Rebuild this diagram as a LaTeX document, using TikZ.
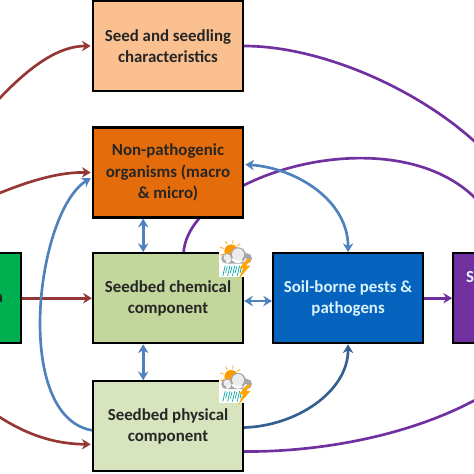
\documentclass[tikz,border=0pt]{standalone}
\usepackage{fontspec}
\setmainfont{Carlito}
\usetikzlibrary{arrows.meta,positioning,calc,backgrounds}
\definecolor{seedcol}{RGB}{250,192,144}
\definecolor{orgcol}{RGB}{228,108,10}
\definecolor{chemcol}{RGB}{195,214,155}
\definecolor{physcol}{RGB}{215,228,189}
\definecolor{soilcol}{RGB}{5,99,190}
\definecolor{cropcol}{RGB}{112,48,160}
\definecolor{mgmtcol}{RGB}{0,176,80}
\definecolor{redarr}{RGB}{149,55,53}
\definecolor{bluearr}{RGB}{79,129,189}
\definecolor{darkarr}{RGB}{54,96,146}
\definecolor{purparr}{RGB}{112,48,160}
\tikzset{
  block/.style={draw=black, line width=1.5pt, fill=#1, minimum width=3.75cm, minimum height=2.25cm, align=center, font=\fontsize{12}{15.2}\selectfont\bfseries, text=black!85},
  effect/.style={-{Stealth[length=2.2mm,width=2.6mm]}, line width=1.9pt, color=redarr},
  link/.style={{Stealth[length=2.2mm,width=2.6mm]}-{Stealth[length=2.2mm,width=2.6mm]}, line width=1.9pt, color=bluearr},
  oneway/.style={-{Stealth[length=2.2mm,width=2.6mm]}, line width=1.9pt, color=bluearr},
  yield/.style={line width=1.9pt, color=purparr},
  weather/.pic={
    \fill[white] (-0.42,0.45) rectangle (0.42,-0.45);
    \fill[orange!80!yellow] (-0.12,0.2) circle (0.17);
    \foreach \a in {40,80,...,240} \draw[orange!80!yellow, line width=0.5pt] (-0.12,0.2) ++(\a:0.2) -- ++(\a:0.09);
    \fill[black!35] (-0.24,0.02) circle (0.13) (0.05,0.1) circle (0.2) (0.27,0.02) circle (0.13) (-0.24,-0.11) rectangle (0.27,0.02);
    \fill[white!85!gray] (-0.22,0.04) circle (0.09) (0.05,0.12) circle (0.15);
    \foreach \x in {-0.27,-0.15,-0.03,0.09} \draw[teal!70!cyan, line width=0.5pt] (\x,-0.16) -- ++(-0.06,-0.26) (\x+0.05,-0.18) -- ++(-0.04,-0.16);
    \fill[orange!70!yellow] (0.27,0) -- (0.08,-0.23) -- (0.18,-0.23) -- (0.06,-0.5) -- (0.36,-0.16) -- (0.25,-0.16) -- (0.38,0) -- cycle;
  },
}
\begin{document}
\begin{tikzpicture}[node distance=0.86cm and 0.7cm]
  \useasboundingbox (0,0) rectangle (11.85,-11.85);
  \clip (0,0) rectangle (11.85,-11.85);
  \node[block=seedcol] (seed) at (4.2,-1.15) {Seed and seedling\\characteristics};
  \node[block=orgcol, below=of seed] (org) {Non-pathogenic\\organisms (macro\\\& micro)};
  \node[block=chemcol, below=0.84cm of org] (chem) {Seedbed chemical\\component};
  \node[block=physcol, below=0.9cm of chem] (phys) {Seedbed physical\\component};
  \node[block=soilcol, right=of chem, text=white!85!cyan] (soil) {Soil-borne pests \&\\pathogens};
  \node[block=cropcol, right=of soil, text=white!90!cyan, text width=3.1cm, align=left] (crop) {S\\\mbox{}\\\mbox{}};
  \node[block=mgmtcol, left=1.75cm of chem, text width=2.85cm, align=right] (mgmt) {a};
  % free ends at the edge of the picture
  \coordinate (top left) at (-0.02,-2.47);
  \coordinate (mid left) at (-0.02,-4.83);
  \coordinate (low left) at (-0.02,-10.42);
  \coordinate (top right) at (11.88,-3.55);
  \coordinate (mid right) at (11.88,-4.95);
  \coordinate (low right) at (11.88,-10.0);
  % behind the boxes
  \begin{scope}[on background layer]
    \draw[yield] ($(chem.north)+(0.39,0)$) .. controls (4.75,-4.38) and (9.78,-2.88) .. (mid right);
  \end{scope}
  \draw[effect] (top left) .. controls (0.8,-1.6) and (1.5,-1.15) .. ($(seed.west)+(-0.03,0)$);
  \draw[effect] (mid left) .. controls (0.8,-4.5) and (1.5,-4.3) .. ($(org.west)+(-0.03,0)$);
  \draw[effect] (mgmt.east) -- (chem.west);
  \draw[effect] (low left) .. controls (0.8,-10.95) and (1.5,-11.1) .. ($(phys.west)+(-0.03,-0.45)$);
  \draw[oneway] ($(phys.west)+(0,-0.1)$) .. controls (0.3,-10.4) and (0.9,-5.3) .. ($(org.west)+(-0.03,-0.14)$);
  \draw[link] ($(org.south)+(-0.62,0)$) -- ($(chem.north)+(-0.62,0)$);
  \draw[link] ($(chem.south)+(-0.62,0)$) -- ($(phys.north)+(-0.62,0)$);
  \draw[link] ($(chem.east)+(0,-0.07)$) -- ($(soil.west)+(0,-0.07)$);
  \draw[link] ($(org.east)+(0.03,0.2)$) .. controls (7.4,-4.2) and (8.7,-5.0) .. (soil.north);
  \draw[oneway, color=darkarr] ($(phys.east)+(0,-0.03)$) .. controls (7.4,-10.65) and (8.7,-9.8) .. (soil.south);
  \draw[yield] (seed.east) .. controls (8,-1.15) and (10.4,-2.2) .. (top right);
  \draw[yield, -{Stealth[length=2.2mm,width=2.6mm]}] (soil.east) -- (crop.west);
  \draw[yield] ($(phys.east)+(0,-0.63)$) .. controls (8,-11.3) and (10.2,-10.9) .. (low right);
  \pic at (5.9,-6.48) {weather};
  \pic at (5.9,-9.62) {weather};
\end{tikzpicture}
\end{document}
